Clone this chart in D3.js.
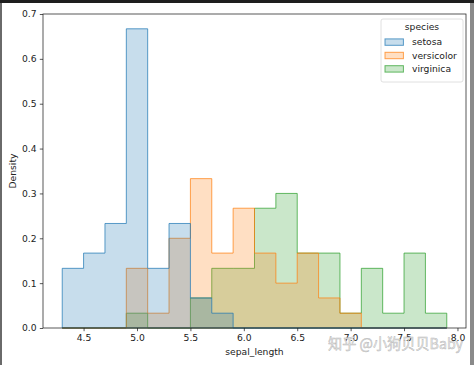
<!DOCTYPE html>
<html>
<head>
<meta charset="utf-8">
<script src="https://cdn.jsdelivr.net/npm/d3@7/dist/d3.min.js"></script>
<style>
  html, body { margin: 0; padding: 0; background: #fff; }
  svg { display: block; }
  text { font-family: "DejaVu Sans", sans-serif; fill: #222; }
</style>
</head>
<body>
<svg id="chart" width="474" height="365"></svg>
<script>
// ---- data ----
const species = ["setosa", "versicolor", "virginica"];
const binEdges = [4.3, 4.5, 4.7, 4.9, 5.1, 5.3, 5.5, 5.7, 5.9, 6.1, 6.3, 6.5, 6.7, 6.9, 7.1, 7.3, 7.5, 7.7, 7.9];
const setosaDensity     = [0.133, 0.167, 0.233, 0.667, 0.133, 0.233, 0.067, 0.033, 0, 0, 0, 0, 0, 0, 0, 0, 0, 0];
const versicolorDensity = [0, 0, 0, 0.133, 0.033, 0.200, 0.333, 0.167, 0.267, 0.167, 0.100, 0.167, 0.067, 0.033, 0, 0, 0, 0];
const virginicaDensity  = [0, 0, 0, 0.033, 0, 0, 0.067, 0.133, 0.133, 0.267, 0.300, 0.167, 0.167, 0.033, 0.133, 0.033, 0.167, 0.033];
const xTicks = [4.5, 5.0, 5.5, 6.0, 6.5, 7.0, 7.5, 8.0];
const yTicks = [0.0, 0.1, 0.2, 0.3, 0.4, 0.5, 0.6, 0.7];
const colors = ["#1f77b4", "#ff7f0e", "#2ca02c"];
const xLabel = "sepal_length";
const yLabel = "Density";
const legendTitle = "species";
const watermark = "知乎 @小狗贝贝Baby";

const seriesValues = [setosaDensity, versicolorDensity, virginicaDensity];

// ---- layout ----
const svg = d3.select("#chart");
const W = 474, H = 365;
const plot = { left: 43, right: 466, top: 14, bottom: 328 };

svg.append("rect").attr("x", 0).attr("y", 0).attr("width", W).attr("height", H).attr("fill", "#fff");

const xMin = 4.3, xMax = 7.9, pad = (xMax - xMin) * 0.05;
const x = d3.scaleLinear().domain([xMin - pad, xMax + pad]).range([plot.left, plot.right]);
const y = d3.scaleLinear().domain([0, 0.7]).range([plot.bottom, plot.top]);

const g = svg.append("g");

// histograms (first hue level drawn last -> on top)
const area = d3.area()
  .curve(d3.curveStepAfter)
  .x(d => x(d.x))
  .y0(y(0))
  .y1(d => y(d.v));

for (let i = species.length - 1; i >= 0; i--) {
  const vals = seriesValues[i];
  const pts = binEdges.map((e, k) => ({ x: e, v: k < vals.length ? vals[k] : vals[vals.length - 1] }));
  g.append("path")
    .attr("d", area(pts))
    .attr("fill", colors[i])
    .attr("fill-opacity", 0.25)
    .attr("stroke", colors[i])
    .attr("stroke-opacity", 0.72)
    .attr("stroke-width", 1)
    .attr("stroke-linejoin", "miter");
}

// axes
const fs = 9.2;
const xAxis = d3.axisBottom(x).tickValues(xTicks).tickFormat(d3.format(".1f")).tickSize(3.2).tickPadding(3.2);
const yAxis = d3.axisLeft(y).tickValues(yTicks).tickFormat(d3.format(".1f")).tickSize(3.2).tickPadding(3.2);

const gx = svg.append("g").attr("transform", `translate(0,${plot.bottom})`).call(xAxis);
const gy = svg.append("g").attr("transform", `translate(${plot.left},0)`).call(yAxis);
[gx, gy].forEach(a => {
  a.select(".domain").remove();
  a.selectAll(".tick line").attr("stroke", "#222").attr("stroke-width", 0.75);
  a.selectAll(".tick text").attr("font-size", fs).attr("font-family", "DejaVu Sans").attr("fill", "#222");
});

// spines
svg.append("rect")
  .attr("x", plot.left).attr("y", plot.top)
  .attr("width", plot.right - plot.left).attr("height", plot.bottom - plot.top)
  .attr("fill", "none").attr("stroke", "#222").attr("stroke-width", 0.75);

// axis labels
svg.append("text")
  .attr("x", (plot.left + plot.right) / 2).attr("y", 354.5)
  .attr("text-anchor", "middle").attr("font-size", fs).text(xLabel);
svg.append("text")
  .attr("transform", `translate(16,${(plot.top + plot.bottom) / 2}) rotate(-90)`)
  .attr("text-anchor", "middle").attr("font-size", fs).text(yLabel);

// legend
const lg = svg.append("g");
lg.append("rect")
  .attr("x", 381).attr("y", 19).attr("width", 82).attr("height", 63)
  .attr("rx", 2).attr("fill", "#fff").attr("fill-opacity", 0.8)
  .attr("stroke", "#d6d6d6").attr("stroke-width", 0.75);
lg.append("text").attr("x", 422).attr("y", 30).attr("text-anchor", "middle")
  .attr("font-size", fs).text(legendTitle);
species.forEach((s, i) => {
  const by = 45.2 + i * 13.4;
  lg.append("rect")
    .attr("x", 385).attr("y", by - 6.3).attr("width", 18.4).attr("height", 6.4)
    .attr("fill", colors[i]).attr("fill-opacity", 0.25)
    .attr("stroke", colors[i]).attr("stroke-opacity", 0.72).attr("stroke-width", 1);
  lg.append("text").attr("x", 412).attr("y", by).attr("font-size", fs).text(s);
});

// watermark
svg.append("text")
  .attr("x", 328).attr("y", 349)
  .attr("font-size", 14.5)
  .attr("textLength", 135).attr("lengthAdjust", "spacingAndGlyphs")
  .style("font-family", "'Noto Sans CJK SC', sans-serif")
  .style("fill", "#ececec").style("fill-opacity", 0.9)
  .attr("stroke", "#a8a8a8").attr("stroke-width", 0.5).attr("stroke-opacity", 0.8)
  .text(watermark);

// screenshot frame edges
svg.append("rect").attr("x", 0).attr("y", 0).attr("width", W).attr("height", 3).attr("fill", "#1e1e1e");
svg.append("rect").attr("x", 0).attr("y", 3).attr("width", 2).attr("height", H - 3).attr("fill", "#6a6a6a");
svg.append("rect").attr("x", 470).attr("y", 3).attr("width", 4).attr("height", H - 3).attr("fill", "#8a8a8a");
</script>
</body>
</html>
